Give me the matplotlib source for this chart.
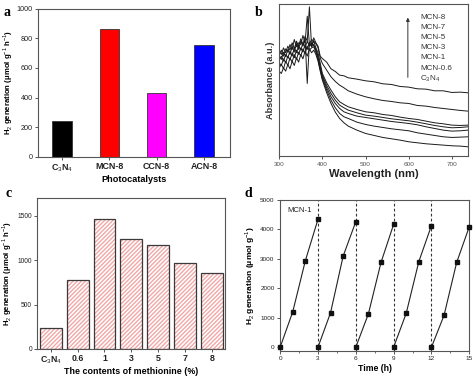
import matplotlib.pyplot as plt
import numpy as np

plt.rcParams['font.family'] = ['Liberation Sans', 'DejaVu Sans']
plt.rcParams['mathtext.fontset'] = 'custom'
plt.rcParams['mathtext.rm'] = 'Liberation Sans'
plt.rcParams['mathtext.bf'] = 'Liberation Sans:bold'

# panel a
cat_a = ['C$_3$N$_4$', 'MCN-8', 'CCN-8', 'ACN-8']
val_a = [245, 865, 434, 752]
col_a = ['#000000', '#ff0000', '#ff00ff', '#0000ff']

# panel b (absorbance, arbitrary units)
wl_uv = [300, 305, 310, 315, 320, 325, 330, 335, 340, 345, 350, 355, 360, 365, 370, 375, 380, 385, 390, 395]
wl_vis = [400, 410, 420, 430, 440, 450, 460, 480, 500, 520, 540, 560, 580, 600, 620, 640, 660, 680, 700, 720, 737]
names_b = ['MCN-8', 'MCN-7', 'MCN-5', 'MCN-3', 'MCN-1', 'MCN-0.6', 'C$_3$N$_4$']
abs_b = [
    [315, 305, 325, 310, 330, 318, 340, 322, 345, 330, 352, 335, 360, 345, 448, 330, 355, 340, 330, 300,
     293, 282, 262, 254, 243, 241, 235, 231, 226, 223, 217, 215, 209, 207, 202, 201, 196, 196, 191, 192, 190],
    [305, 318, 300, 322, 312, 335, 320, 350, 328, 340, 335, 362, 340, 420, 335, 350, 345, 338, 325, 295,
     278, 258, 238, 224, 213, 205, 196, 186, 178, 172, 167, 164, 160, 158, 152, 150, 146, 143, 140, 137, 135],
    [300, 290, 312, 298, 320, 305, 328, 312, 338, 320, 345, 330, 350, 218, 340, 330, 345, 325, 310, 280,
     248, 220, 198, 178, 163, 155, 148, 140, 133, 130, 125, 122, 117, 113, 110, 105, 100, 97, 93, 92, 93],
    [290, 300, 285, 305, 295, 315, 300, 325, 310, 330, 318, 340, 325, 345, 330, 338, 332, 320, 300, 270,
     243, 212, 188, 168, 153, 145, 138, 130, 123, 120, 116, 112, 109, 106, 102, 97, 92, 88, 85, 86, 88],
    [280, 272, 292, 280, 300, 288, 310, 295, 318, 305, 325, 312, 335, 320, 342, 328, 335, 318, 295, 265,
     238, 205, 178, 158, 143, 133, 128, 120, 116, 112, 108, 104, 101, 98, 94, 88, 83, 78, 75, 76, 78],
    [265, 275, 262, 285, 272, 295, 282, 305, 290, 312, 300, 322, 308, 330, 318, 325, 328, 312, 290, 260,
     233, 198, 168, 145, 128, 118, 113, 102, 95, 90, 86, 82, 79, 76, 70, 66, 62, 58, 56, 57, 58],
    [255, 248, 265, 255, 275, 262, 285, 272, 295, 282, 305, 292, 315, 300, 322, 310, 318, 305, 285, 255,
     228, 190, 158, 132, 113, 100, 90, 78, 68, 62, 56, 52, 48, 43, 40, 37, 35, 33, 31, 30, 28],
]

# panel c
cat_c = ['C$_3$N$_4$', '0.6', '1', '3', '5', '7', '8']
val_c = [240, 776, 1467, 1238, 1174, 971, 855]

# panel d
t_cycle = [0, 1, 2, 3]
cycles_d = [
    [0, 1200, 2930, 4330],
    [0, 1170, 3090, 4250],
    [0, 1130, 2870, 4160],
    [0, 1150, 2900, 4120],
    [0, 1080, 2870, 4080],
]

fig = plt.figure(figsize=(4.74, 3.78), dpi=100)
spine_c = '#555555'


def style(ax):
    for s in ax.spines.values():
        s.set_color(spine_c)
        s.set_linewidth(0.8)
    ax.tick_params(colors=spine_c, labelcolor='#222222', width=0.7, length=2.5, direction='out', pad=1.5)


ylab_a = 'H$_2$ generation (μmol g$^{-1}$ h$^{-1}$)'

# a
axa = fig.add_axes([0.081, 0.585, 0.404, 0.392])
axa.bar(range(4), val_a, width=0.41, color=col_a, edgecolor='#333333', linewidth=0.6)
axa.set_xlim(-0.5, 3.55)
axa.set_ylim(0, 1000)
axa.set_yticks([0, 200, 400, 600, 800, 1000])
axa.set_xticks(range(4))
axa.set_xticklabels(cat_a, fontsize=6.4, fontweight='bold')
axa.tick_params(axis='y', labelsize=5.2)
axa.set_xlabel('Photocatalysts', fontsize=6.6, fontweight='bold', labelpad=1)
axa.set_ylabel(ylab_a, fontsize=5.6, fontweight='bold', labelpad=1.5)
style(axa)

# b
axb = fig.add_axes([0.589, 0.587, 0.398, 0.402])
wl = wl_uv + wl_vis
for ys in abs_b:
    axb.plot(wl, ys, color='#1a1a1a', linewidth=0.7)
axb.set_xlim(300, 737)
axb.set_ylim(0, 456)
axb.set_yticks([])
axb.set_xticks([300, 400, 500, 600, 700])
axb.tick_params(axis='x', labelsize=4.6)
axb.set_xlabel('Wavelength (nm)', fontsize=8, fontweight='bold', color='#222222', labelpad=2)
axb.set_ylabel('Absorbance (a.u.)', fontsize=6.6, fontweight='bold', color='#333333', labelpad=3)
style(axb)
axb.tick_params(axis='x', labelcolor='#555555')
for i, n in enumerate(names_b):
    axb.text(0.746, 0.914 - i * 0.067, n, transform=axb.transAxes, fontsize=5.8,
             color='#333333', va='center', ha='left')
axb.annotate('', xy=(0.682, 0.93), xytext=(0.682, 0.5), xycoords='axes fraction',
             arrowprops=dict(arrowstyle='-|>', color='#333333', lw=0.7, mutation_scale=5))

# c
axc = fig.add_axes([0.079, 0.077, 0.396, 0.399])
xc = np.arange(len(val_c))
axc.bar(xc, val_c, width=0.81, color='white', edgecolor='#f2a8a8', hatch='////////', linewidth=0)
axc.bar(xc, val_c, width=0.81, fill=False, edgecolor='#3a3a3a', linewidth=0.9)
axc.set_xlim(-0.5, 6.5)
axc.set_ylim(0, 1700)
axc.set_yticks([0, 500, 1000, 1500])
axc.set_xticks(xc)
axc.set_xticklabels(cat_c, fontsize=6.3, fontweight='bold')
axc.tick_params(axis='y', labelsize=4.8)
axc.set_xlabel('The contents of methionine (%)', fontsize=6.4, fontweight='bold', labelpad=0.5)
axc.set_ylabel(ylab_a, fontsize=5.6, fontweight='bold', labelpad=2)
style(axc)

# d
axd = fig.add_axes([0.591, 0.072, 0.399, 0.40])
for k, ys in enumerate(cycles_d):
    ts = [3 * k + t for t in t_cycle]
    axd.plot(ts, ys, color='#222222', linewidth=0.8, marker='s', markersize=3.2,
             markerfacecolor='#111111', markeredgecolor='#111111', clip_on=False, zorder=3)
for xv in [3, 6, 9, 12]:
    axd.axvline(xv, color='#333333', linestyle=(0, (2.5, 2)), linewidth=0.8)
axd.set_xlim(0, 15)
axd.set_ylim(-120, 5000)
axd.set_xticks([0, 3, 6, 9, 12, 15])
axd.set_xticks([1.5, 4.5, 7.5, 10.5, 13.5], minor=True)
axd.set_yticks([0, 1000, 2000, 3000, 4000, 5000])
axd.tick_params(labelsize=4.6)
axd.set_xlabel('Time (h)', fontsize=6.3, fontweight='bold', labelpad=2)
axd.set_ylabel('H$_2$ generation (μmol g$^{-1}$)', fontsize=6.0, fontweight='bold', labelpad=2)
axd.text(0.04, 0.93, 'MCN-1', transform=axd.transAxes, fontsize=5.6, color='#222222', va='center')
style(axd)
axd.tick_params(which='minor', length=1.5, colors=spine_c)

# panel letters
for lab, x, y in [('a', 0.008, 0.985), ('b', 0.538, 0.985), ('c', 0.012, 0.505), ('d', 0.515, 0.505)]:
    fig.text(x, y, lab, fontsize=10, fontweight='bold', family='Liberation Serif', va='top')

fig.savefig('out.png', dpi=100)
